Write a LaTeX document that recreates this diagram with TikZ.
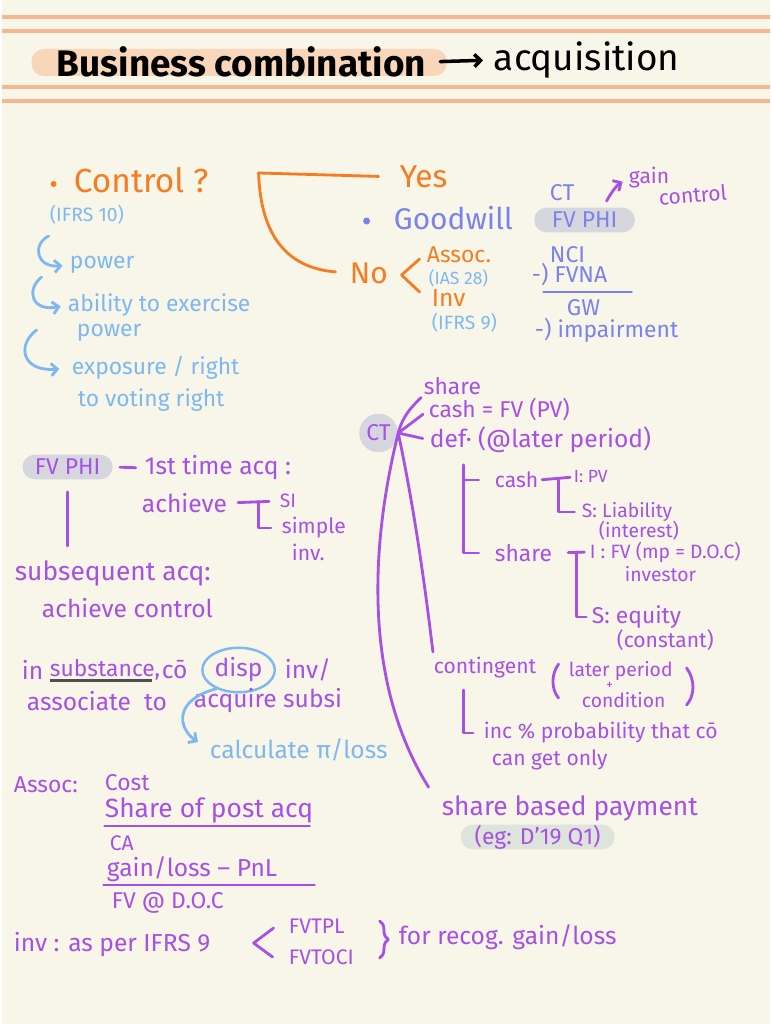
\documentclass[tikz,border=0pt]{standalone}
\usepackage{fontspec}
\setmainfont{Fira Sans}
\usetikzlibrary{arrows.meta, positioning, calc, shapes.geometric, decorations.pathreplacing}
\definecolor{paper}{RGB}{248,245,233}
\definecolor{myRule}{RGB}{246,182,142}
\definecolor{myPeach}{RGB}{247,214,186}
\definecolor{myOrange}{RGB}{245,124,32}
\definecolor{myBlue}{RGB}{125,185,240}
\definecolor{myPeri}{RGB}{122,130,235}
\definecolor{myPurple}{RGB}{166,80,228}
\definecolor{hlGrey}{RGB}{214,215,222}
\definecolor{hlGreen}{RGB}{220,228,220}
\definecolor{inkGrey}{RGB}{80,80,80}
\newcommand\fsz[1]{\fontsize{#1}{#1}\selectfont}

\begin{document}
\begin{tikzpicture}[x=0.02cm, y=-0.02cm,
    txt/.style={inner sep=0pt, anchor=west},
    hand/.style={txt, text=myPurple, font=\fsz{#1}}, hand/.default=13,
    hint/.style={txt, text=myBlue, font=\fsz{#1}}, hint/.default=13,
    head/.style={txt, text=myOrange, font=\fsz{#1}}, head/.default=18,
    peri/.style={txt, text=myPeri, font=\fsz{#1}}, peri/.default=13,
    pen/.style={line width=1.6pt, line cap=round, line join=round},
    rule/.style={line width=1.8pt, myRule},
    barb/.style={-{Straight Barb[length=3.5pt, width=7pt]}},
    hilite/.style={fill=#1, rounded corners=7pt, inner xsep=8pt, inner ysep=0pt, minimum height=14pt, anchor=center},
  ]
  \fill[paper] (0,0) rectangle (768,1024);
  % ruled header
  \foreach \y in {17,31,87,101} \draw[rule] (0,\y) -- (768,\y);
  \fill[myPeach, rounded corners=7pt] (30,49) rectangle (445,76);
  \node[txt, font=\fsz{21}\bfseries] (title) at (55,62) {Business combination};
  \node[txt, font=\fsz{21}] (acq) at (492,60) {acquisition};
  \draw[pen, barb, line width=2pt, shorten <=8pt, shorten >=6pt] (title.east) -- (acq.west);

  % Control question
  \fill[myOrange] (52,184) circle (3);
  \node[head=19] (control) at (72,180) {Control ?};
  \node[hint=11] (ifrs10) at (48,215) {(IFRS 10)};
  \node[hint] (power) at (68,265) {power};
  \node[hint] (ability) at (66,305) {ability to exercise};
  \node[hint] (power2) at (75,333) {power};
  \node[hint] (exposure) at (70,368) {exposure / right};
  \node[hint] (voting) at (76,400) {to voting right};
  \coordinate (hook1) at (47,236);
  \coordinate (hook2) at (40,277);
  \coordinate (hook3) at (35,330);
  \draw[pen, myBlue, barb, shorten >=4pt] (hook1) .. controls (30,245) and (35,268) .. (power.west);
  \draw[pen, myBlue, barb, shorten >=4pt] (hook2) .. controls (24,290) and (30,312) .. (ability.west);
  \draw[pen, myBlue, barb, shorten >=7pt] (hook3) .. controls (15,345) and (20,372) .. (exposure.west);

  % Yes / No fork
  \coordinate (fork) at (257,173);
  \node[head] (yes) at (398,177) {Yes};
  \node[head=17] (no) at (348,273) {No};
  \draw[pen, myOrange, shorten >=12pt] (fork) -- (yes.west);
  \draw[pen, myOrange, shorten >=8pt] (fork) .. controls (259,235) and (285,268) .. (no.west);
  \fill[myPeri] (365,221) circle (3.5);
  \node[peri=17] (goodwill) at (392,218) {Goodwill};
  \node[head=13] (assoc) at (425,255) {Assoc.};
  \node[hint=10] (ias28) at (427,278) {(IAS 28)};
  \node[head=14] (inv) at (430,298) {Inv};
  \node[hint=11] (ifrs9) at (430,323) {(IFRS 9)};
  \draw[pen, myOrange] (418,259) -- (400,275) -- (418,292);

  % Goodwill working
  \node[peri] (ctA) at (548,193) {CT};
  \node[hilite=hlGrey, text=myPeri, font=\fsz{13}, inner xsep=10pt] (fvphiA) at (583,220) {FV PHI};
  \node[hand=12] (gain) at (627,178) {gain};
  \node[hand=12, rotate=5] (gainctrl) at (657,198) {control};
  \coordinate (gainfrom) at (605,201);
  \draw[pen, myPurple, barb, shorten >=4pt] (gainfrom) to[bend left=15] (gain.west);
  \node[peri] (nci) at (548,255) {NCI};
  \node[peri] (fvna) at (530,275) {-) FVNA};
  \draw[pen, myPeri] (542,292) -- (630,292);
  \node[peri] (gw) at (565,308) {GW};
  \node[peri] (impair) at (533,330) {-) impairment};

  % FV PHI on step acquisition
  \node[hilite=hlGrey, text=myPurple, font=\fsz{13}, inner xsep=7pt] (fvphiB) at (66,467) {FV PHI};
  \node[hand=14] (first) at (143,468) {1st time acq :};
  \draw[pen, myPurple, shorten <=4pt, shorten >=5pt] (fvphiB.east) -- (first.west);
  \node[hand=14] (achieve) at (140,503) {achieve};
  \node[hand=11] (si) at (278,501) {SI};
  \node[hand=12] (simple) at (280,528) {simple};
  \node[hand=12] (simpleinv) at (290,552) {inv.};
  \draw[pen, myPurple, shorten <=6pt, shorten >=6pt] (achieve.east) -- (si.west);
  \coordinate (siT) at (257,502);
  \draw[pen, myPurple, shorten >=6pt] (siT) |- (simple.west);
  \node[hand=15] (subseq) at (13,573) {subsequent acq:};
  \node[hand=14] (achctrl) at (40,608) {achieve control};
  \draw[pen, myPurple, shorten <=7pt, shorten >=8pt] (fvphiB.south) -- (fvphiB.south |- subseq.north);

  % Disposal in substance
  \node[hand=14] (in) at (20,670) {in};
  \node[hand=13] (subst) at (48,670) {substance,};
  \node[hand=14] (co) at (160,670) {cō};
  \node[hand=14, ellipse, draw=myBlue, line width=1.4pt, inner xsep=1pt, inner ysep=2pt, anchor=center] (disp) at (237,670) {disp};
  \node[hand=14] (invslash) at (283,670) {inv/};
  \draw[line width=1.6pt, inkGrey] (subst.south west) -- ([xshift=-5pt]subst.south east);
  \node[hand=14] (assocto) at (25,701) {associate\ \ to};
  \node[hand=14] (acquire) at (192,701) {acquire subsi};
  \node[hint=14] (calc) at (208,750) {calculate π/loss};
  \draw[pen, myBlue, barb, shorten >=8pt] (disp.220) .. controls (172,700) and (176,728) .. (calc.west);

  % Associate and investment
  \node[hand=13] (assocB) at (12,785) {Assoc:};
  \node[hand=13] (cost) at (103,783) {Cost};
  \node[hand=15] (postacq) at (103,810) {Share of post acq};
  \draw[pen, myPurple] (103,826) -- (308,826);
  \node[hand=12] (ca) at (108,843) {CA};
  \node[hand=14] (gl) at (105,869) {gain/loss – PnL};
  \draw[pen, myPurple] (102,885) -- (313,885);
  \node[hand=13] (fvdoc) at (110,903) {FV @ D.O.C};
  \node[hand=14] (invas) at (12,945) {inv : as per IFRS 9};
  \draw[pen, myPurple] (272,928) -- (252,943) -- (271,957);
  \node[hand=12] (fvtpl) at (287,926) {FVTPL};
  \node[hand=12] (fvtoci) at (287,957) {FVTOCI};
  \draw[pen, myPurple, decorate, decoration={brace, amplitude=5pt}] (378,921) -- (378,958);
  \node[hand=14] (recog) at (397,937) {for recog. gain/loss};

  % Consideration transferred
  \node[circle, fill=hlGrey, minimum size=22pt, inner sep=0pt, text=myPurple, font=\fsz{13}] (ctB) at (377,433) {CT};
  \node[hand=13] (share) at (422,386) {share};
  \node[hand=13] (cash) at (427,410) {cash = FV (PV)};
  \node[hand=14] (def) at (428,440) {def· (@later period)};
  \draw[pen, myPurple, shorten >=2pt] (ctB.east) to[out=75, in=225] (share.south west);
  \draw[pen, myPurple, shorten >=4pt] (ctB.east) -- (cash.west);
  \draw[pen, myPurple, shorten >=4pt] (ctB.east) -- (def.west);
  \coordinate (defL) at (462,465);
  \node[hand=12] (cashB) at (493,480) {cash};
  \node[hand=13] (shareB) at (493,553) {share};
  \draw[pen, myPurple, shorten >=9pt] (defL) |- (cashB.west);
  \draw[pen, myPurple, shorten >=9pt] (defL) |- (shareB.west);
  \node[hand=10] (ipv) at (572,477) {I: PV};
  \node[hand=11] (sliab) at (580,512) {S: Liability};
  \node[hand=11] (interest) at (597,531) {(interest)};
  \draw[pen, myPurple, shorten <=2pt, shorten >=2pt] (cashB.east) -- (ipv.west);
  \coordinate (cashT) at (557,480);
  \draw[pen, myPurple, shorten >=4pt] (cashT) |- (sliab.west);
  \node[hand=11] (ifv) at (588,552) {I : FV (mp = D.O.C)};
  \node[hand=11] (investor) at (623,574) {investor};
  \node[hand=13] (sequity) at (590,617) {S: equity};
  \node[hand=12] (constant) at (615,640) {(constant)};
  \draw[pen, myPurple, shorten <=9pt, shorten >=3pt] (shareB.east) -- (ifv.west);
  \coordinate (shareT) at (575,552);
  \draw[pen, myPurple, shorten >=3pt] (shareT) |- (sequity.west);

  % Contingent and share based
  \node[hand=12] (contingent) at (432,668) {contingent};
  \node[hand=11] (later) at (567,671) {later period};
  \node[hand=8, anchor=center] (plus) at (608,686) {+};
  \node[hand=11] (condition) at (580,700) {condition};
  \draw[pen, myPurple] (557,664) .. controls (549,675) and (550,690) .. (557,698);
  \draw[pen, myPurple] (685,668) .. controls (694,680) and (693,696) .. (685,705);
  \coordinate (contL) at (462,690);
  \node[hand=12] (incp) at (482,733) {inc \% probability that cō};
  \node[hand=12] (canget) at (490,760) {can get only};
  \draw[pen, myPurple, shorten >=6pt] (contL) |- (incp.west);
  \node[hand=15] (sbp) at (440,808) {share based payment};
  \node[hilite=hlGreen, text=myPurple, font=\fsz{13}, inner xsep=8pt] (eg) at (536,837) {(eg: D’19 Q1)};
  \draw[pen, myPurple, shorten >=3pt] (ctB.east) .. controls (415,520) and (425,600) .. (contingent.north west);
  \draw[pen, myPurple, shorten >=14pt] (ctB.east) .. controls (370,540) and (360,680) .. (sbp.west);
\end{tikzpicture}
\end{document}
